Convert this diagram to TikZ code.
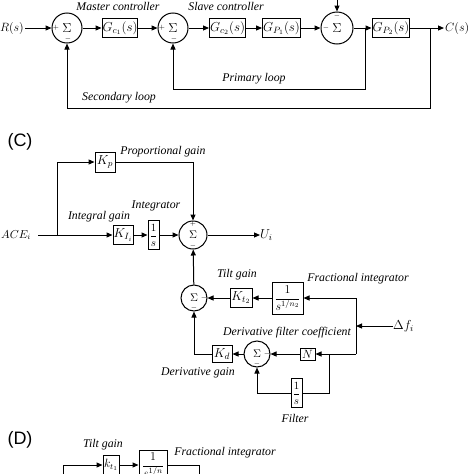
\RequirePackage{fix-cm}
\documentclass[tikz,border=0pt]{standalone}
\usepackage{fontspec}
\setmainfont{Liberation Serif}
\newfontfamily\panelfont{Liberation Sans}
\usetikzlibrary{arrows.meta}
\begin{document}
\begin{tikzpicture}[x=1pt,y=-1pt,
  blk/.style={draw, line width=1pt, inner sep=1pt, minimum height=19pt, font=\fontsize{13}{14}\selectfont},
  sumc/.style={draw, circle, line width=1pt, inner sep=0pt, minimum size=30pt, font=\fontsize{13}{14}\selectfont},
  smallsum/.style={sumc, minimum size=26pt, font=\fontsize{11}{12}\selectfont},
  lab/.style={font=\fontsize{11.8}{13}\selectfont\itshape, inner sep=0pt},
  mlab/.style={font=\fontsize{12}{13}\selectfont, inner sep=1pt},
  sgn/.style={font=\fontsize{7}{8}\selectfont, inner sep=0pt},
  panel/.style={font=\panelfont\fontsize{18}{20}\selectfont, inner sep=0pt},
  wire/.style={line width=1pt},
  arr/.style={wire, -{Triangle[length=6pt,width=5pt]}},
]
\useasboundingbox (0,0) rectangle (474,474);
\clip (0,0) rectangle (474,474);

% ---------- top diagram ----------
\node[mlab, anchor=east] (R) at (25,28) {$R(s)$};
\node[sumc] (s1) at (67,28) {$\Sigma$};
\node[blk, minimum width=34pt, inner sep=0.5pt] (gc1) at (120,28) {$G_{c_1}(s)$};
\node[sumc] (s2) at (173,28) {$\Sigma$};
\node[blk, minimum width=31pt, inner sep=0.5pt] (gc2) at (227.5,28) {$G_{c_2}(s)$};
\node[blk, minimum width=33pt, inner sep=0.5pt] (gp1) at (281.5,28) {$G_{P_1}(s)$};
\node[sumc, minimum size=32pt] (s3) at (337,28) {$\Sigma$};
\node[blk, minimum width=36pt, inner sep=0.5pt] (gp2) at (391,28) {$G_{P_2}(s)$};
\coordinate (b1) at (365,28);
\coordinate (b2) at (430,28);
\node[mlab, anchor=west] (C) at (444,28) {$C(s)$};
\coordinate (d) at (337,-2);

\draw[arr] (R) -- (s1);
\draw[arr] (s1) -- (gc1);
\draw[arr] (gc1) -- (s2);
\draw[arr] (s2) -- (gc2);
\draw[arr] (gc2) -- (gp1);
\draw[arr] (gp1) -- (s3);
\draw[arr] (d) -- (s3);
\draw[arr] (s3) -- (gp2);
\draw[arr] (gp2) -- (C);
\draw[arr] (b1) -- ++(0,61) -| (s2.south);
\draw[arr] (b2) -- ++(0,80) -| (s1.south);

\node[sgn] at (56,28) {$+$};
\node[sgn] at (68,39) {$-$};
\node[sgn] at (162,28) {$+$};
\node[sgn] at (174,39) {$-$};
\node[sgn] at (326,28) {$-$};
\node[sgn] at (337,16) {$-$};

\node[lab] at (118,6) {Master controller};
\node[lab] at (226,6) {Slave controller};
\node[lab] at (254,79) {Primary loop};
\node[lab] at (119,98) {Secondary loop};

% ---------- panel C ----------
\node[panel] at (20,142) {(C)};
\node[lab, anchor=east, font=\fontsize{11.5}{13}\selectfont] (ace) at (31,235) {$ACE_i$};
\coordinate (j1) at (57,235);
\node[blk, minimum width=20pt, minimum height=20pt, inner sep=0pt] (kp) at (105,162) {$K_p$};
\node[blk, minimum width=20pt, minimum height=19pt, inner sep=0pt] (ki) at (123,235) {$K_{I_i}$};
\node[blk, minimum width=11pt, minimum height=29pt, inner sep=0.5pt, font=\fontsize{11}{12}\selectfont] (int) at (153.5,235) {$\displaystyle\frac{1}{s}$};
\node[smallsum, minimum size=28pt] (sc) at (193,235) {$\Sigma$};
\node[lab, anchor=west, font=\fontsize{13}{14}\selectfont] (U) at (260,235) {$U_i$};

\draw[arr, shorten <=7pt] (ace) -- (ki);
\draw[arr] (j1) |- (kp);
\draw[arr] (kp) -| (sc);
\draw[arr] (ki) -- (int);
\draw[arr] (int) -- (sc);
\draw[arr] (sc) -- (U);

\node[sgn] at (193,224) {$+$};
\node[sgn] at (193,246) {$-$};

\node[smallsum] (l1) at (194,298) {$\Sigma$};
\node[blk, minimum width=22pt, minimum height=19pt, inner sep=0pt] (kt2) at (241,298) {$K_{t_2}$};
\node[blk, minimum width=31pt, minimum height=32pt, inner sep=0.5pt, font=\fontsize{12}{13}\selectfont] (fi) at (287.5,298) {$\displaystyle\frac{1}{s^{1/n_2}}$};
\coordinate (j2) at (356,298);
\coordinate (j3) at (356,354);
\coordinate (j4) at (356,326);
\node[lab, anchor=west, font=\fontsize{13}{14}\selectfont] (dfl) at (393,326) {$\Delta f_i$};
\node[blk, minimum width=15pt, minimum height=12pt, inner sep=0pt, font=\fontsize{12}{13}\selectfont] (n) at (307.5,354) {$N$};
\node[smallsum] (l2) at (257,354) {$\Sigma$};
\node[blk, minimum width=20pt, minimum height=17pt, inner sep=0pt] (kd) at (222,354) {$K_d$};
\coordinate (j5) at (329,354);
\node[blk, minimum width=11pt, minimum height=29pt, inner sep=0.5pt, font=\fontsize{11}{12}\selectfont] (flt) at (296.5,393) {$\displaystyle\frac{1}{s}$};

\draw[arr] (dfl) -- (j4);
\draw[arr] (j3) -- (j2) -- (fi);
\draw[arr] (j3) -- (n);
\draw[arr] (fi) -- (kt2);
\draw[arr] (kt2) -- (l1);
\draw[arr] (l1) -- (sc);
\draw[arr] (n) -- (l2);
\draw[arr] (l2) -- (kd);
\draw[arr] (kd) -| (l1);
\draw[wire] (j5) |- (flt);
\draw[arr] (flt) -| (l2);

\node[sgn] at (204,298) {$-$};
\node[sgn] at (194,308) {$-$};
\node[sgn] at (267,354) {$-$};
\node[sgn] at (257,364) {$-$};

\node[lab] at (163,152) {Proportional gain};
\node[lab] at (99,217) {Integral gain};
\node[lab] at (156,206) {Integrator};
\node[lab] at (237,275) {Tilt gain};
\node[lab] at (358,279) {Fractional integrator};
\node[lab] at (287,333) {Derivative filter coefficient};
\node[lab] at (198,373) {Derivative gain};
\node[lab] at (295,418) {Filter};

% ---------- panel D ----------
\node[panel] at (20,440) {(D)};
\node[lab] at (103,445) {Tilt gain};
\node[lab] at (225,453) {Fractional integrator};
\coordinate (jd) at (63,465);
\coordinate (jd2) at (63,490);
\node[blk, minimum width=16pt, minimum height=20pt, inner sep=0pt, font=\fontsize{12}{13}\selectfont] (kt1) at (111,465) {$k_{t_1}$};
\node[blk, minimum width=28pt, minimum height=30pt, inner sep=0.5pt, font=\fontsize{12}{13}\selectfont] (fd) at (153,465) {$\displaystyle\frac{1}{s^{1/n}}$};
\coordinate (je) at (199,465);
\coordinate (je2) at (199,490);
\draw[wire] (jd2) -- (jd);
\draw[arr] (jd) -- (kt1);
\draw[arr] (kt1) -- (fd);
\draw[wire] (fd) -- (je) -- (je2);
\end{tikzpicture}
\end{document}
